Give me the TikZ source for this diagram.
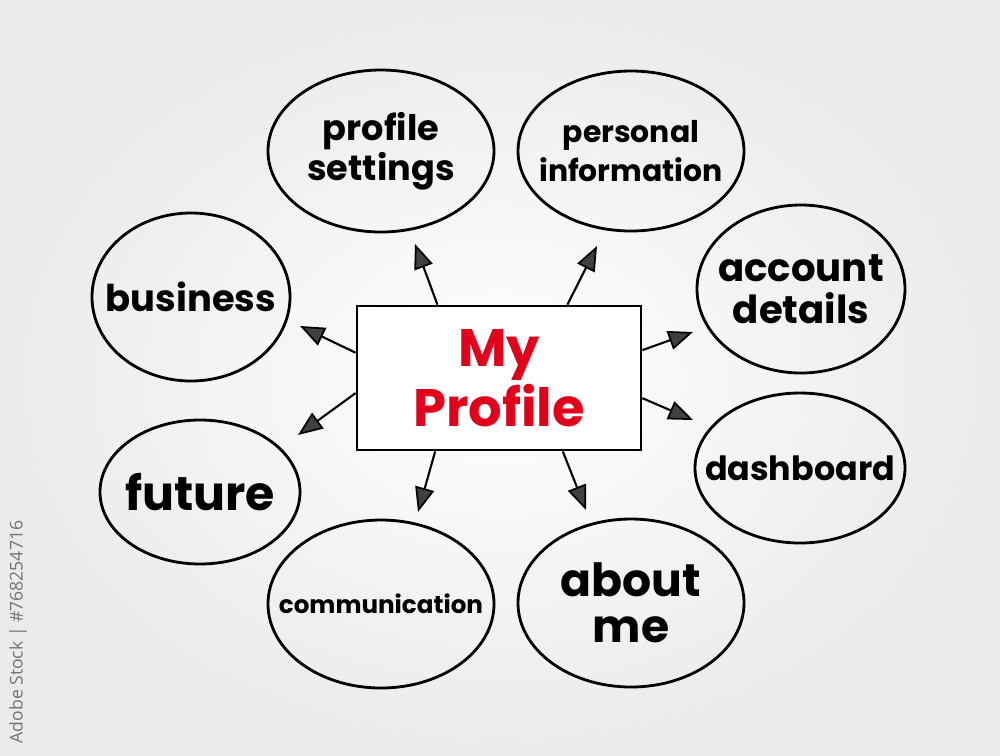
\documentclass[tikz,border=0pt]{standalone}
\usepackage{fontspec}
\setmainfont{Poppins}
\newfontfamily\stockfont{Open Sans}
\usetikzlibrary{arrows.meta}
\definecolor{profred}{HTML}{E2001A}

\begin{document}
\begin{tikzpicture}
[
x=0.02cm, y=-0.02cm,
label/.style={inner sep=0pt, align=center},
ring/.style={line width=1.6pt},
mainbox/.style={rectangle, draw, line width=1.6pt, fill=white, minimum width=5.68cm, minimum height=2.88cm, align=center, text=profred},
arr/.style={line width=1.2pt, -{Triangle[length=14pt, width=11pt, fill=black!75, line width=1pt]}}
]

\shade[inner color=white, outer color=black!8] (0,0) rectangle (1000,755);
\useasboundingbox (0,0) rectangle (1000,755);
\node[rotate=90, text=black!55, font=\stockfont\fontsize{10}{12}\selectfont] (stockid) at (18,632) {Adobe Stock | \#768254716};

\node[mainbox, font=\bfseries\fontsize{30}{34}\selectfont] (main) at (499,378) {My\\Profile};

\node[label, font=\bfseries\fontsize{20}{23}\selectfont] (settings) at (381,151) {profile\\settings};
\node[label, font=\bfseries\fontsize{17}{22}\selectfont] (personal) at (631,151) {personal\\information};
\node[label, font=\bfseries\fontsize{22}{24}\selectfont] (account) at (801,289) {account\\details};
\node[label, font=\bfseries\fontsize{21}{24}\selectfont] (business) at (191,297) {business};
\node[label, font=\bfseries\fontsize{19}{24}\selectfont] (dashboard) at (800,468) {dashboard};
\node[label, font=\bfseries\fontsize{27}{30}\selectfont] (future) at (200,492) {future};
\node[label, font=\bfseries\fontsize{14}{20}\selectfont] (communication) at (381,604) {communication};
\node[label, font=\bfseries\fontsize{26}{26}\selectfont] (aboutme) at (631,603) {about\\me};

\draw[ring] (settings.center) ellipse (113 and 81);
\draw[ring] (personal.center) ellipse (113 and 80);
\draw[ring] (account.center) ellipse (104 and 84);
\draw[ring] (business.center) ellipse (99 and 84);
\draw[ring] (dashboard.center) ellipse (105 and 75);
\draw[ring] (future.center) ellipse (100 and 72);
\draw[ring] (communication.center) ellipse (113 and 84);
\draw[ring] (aboutme.center) ellipse (113 and 84);

\coordinate (tipsettings) at (415,244);
\coordinate (tippersonal) at (597,246);
\coordinate (tipbusiness) at (300,326);
\coordinate (tipfuture) at (298,435);
\coordinate (tipcomm) at (418,512);
\coordinate (tipabout) at (586,510);
\coordinate (tipaccount) at (693,332);
\coordinate (tipdash) at (693,420);

\draw[arr] (main.130) -- (tipsettings);
\draw[arr] (main.47) -- (tippersonal);
\draw[arr] (main.170) -- (tipbusiness);
\draw[arr] (main.186) -- (tipfuture);
\draw[arr] (main.229) -- (tipcomm);
\draw[arr] (main.311) -- (tipabout);
\draw[arr] (main.11) -- (tipaccount);
\draw[arr] (main.352) -- (tipdash);
\end{tikzpicture}
\end{document}
